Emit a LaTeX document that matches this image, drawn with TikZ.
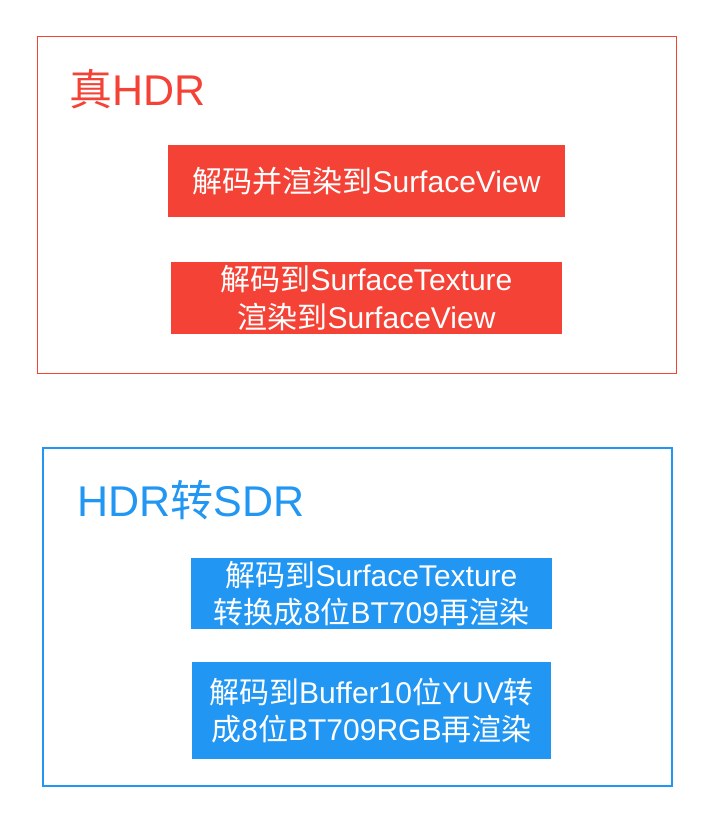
\documentclass[tikz,border=0pt]{standalone}
\usepackage{fontspec}
\setmainfont{Liberation Sans}
\newfontfamily\cjk{Noto Sans CJK SC}
\definecolor{hred}{HTML}{F44336}
\definecolor{hblue}{HTML}{2196F3}
\newcommand{\zh}[1]{{\cjk #1}}
\begin{document}
\begin{tikzpicture}[x=1pt,y=1pt,
  frame/.style={draw=#1, inner sep=0pt, anchor=south west},
  title/.style={anchor=base west, text=#1, inner sep=0pt, font=\fontsize{43}{52}\selectfont},
  box/.style={fill=#1, text=white, inner sep=0pt, align=center, font=\fontsize{30}{37.5}\selectfont}]
\useasboundingbox[fill=white] (0,0) rectangle (714,825);
% red group
\node[frame=hred, line width=1.4pt, minimum width=639pt, minimum height=337pt] (redframe) at (37,451) {};
\node[title=hred] (redtitle) at (69,719) {\zh{真}HDR};
\node[box=hred, minimum width=397pt, minimum height=72pt] (r1) at (366.5,644) {\zh{解码并渲染到}SurfaceView};
\node[box=hred, minimum width=391pt, minimum height=72pt] (r2) at (366.5,527) {\zh{解码到}SurfaceTexture\\\zh{渲染到}SurfaceView};
% blue group
\node[frame=hblue, line width=2pt, minimum width=629pt, minimum height=338pt] (blueframe) at (42,38) {};
\node[title=hblue] (bluetitle) at (77,308) {HDR\zh{转}SDR};
\node[box=hblue, minimum width=361pt, minimum height=71pt] (b1) at (371.5,231.5) {\zh{解码到}SurfaceTexture\\\zh{转换成}8\zh{位}BT709\zh{再渲染}};
\node[box=hblue, minimum width=359pt, minimum height=97pt] (b2) at (371.5,114.5) {\zh{解码到}Buffer10\zh{位}YUV\zh{转}\\\zh{成}8\zh{位}BT709RGB\zh{再渲染}};
\end{tikzpicture}
\end{document}
